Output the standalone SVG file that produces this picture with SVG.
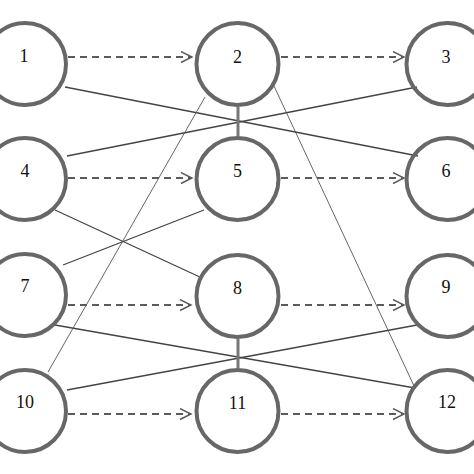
<svg xmlns="http://www.w3.org/2000/svg" width="474" height="474" viewBox="0 0 474 474">
<style>
.node circle{fill:none;stroke:#676767;stroke-width:4}
.node text{font-family:"Liberation Serif","Times New Roman",serif;font-size:18px;fill:#111;text-anchor:middle}
.dash{stroke:#5a5a5a;stroke-width:2;stroke-dasharray:7,5;fill:none}
.solid{stroke:#444;stroke-width:1.3;fill:none}
.thin{stroke:#555;stroke-width:0.9;fill:none}
.bar{stroke:#777;stroke-width:3;fill:none}
</style>
<defs>
<marker id="ah" markerWidth="14" markerHeight="14" refX="12" refY="6" orient="auto" markerUnits="userSpaceOnUse">
<path d="M1,0.5 L12,6 L1,11.5" fill="none" stroke="#5a5a5a" stroke-width="1.4"/>
</marker>
</defs>
<rect width="474" height="474" fill="#fff"/>
<g id="connectors">
<line class="dash" x1="68" y1="57" x2="192" y2="57" marker-end="url(#ah)"/>
<line class="dash" x1="281" y1="57" x2="404" y2="57" marker-end="url(#ah)"/>
<line class="dash" x1="68" y1="178" x2="192" y2="178" marker-end="url(#ah)"/>
<line class="dash" x1="281" y1="178" x2="404" y2="178" marker-end="url(#ah)"/>
<line class="dash" x1="68" y1="305" x2="191" y2="305" marker-end="url(#ah)"/>
<line class="dash" x1="281" y1="305" x2="404" y2="305" marker-end="url(#ah)"/>
<line class="dash" x1="68" y1="414" x2="191" y2="414" marker-end="url(#ah)"/>
<line class="dash" x1="281" y1="414" x2="404" y2="414" marker-end="url(#ah)"/>
<line class="solid" x1="65" y1="87" x2="418" y2="156"/>
<line class="solid" x1="67" y1="156" x2="417" y2="87"/>
<line class="solid" x1="55" y1="210" x2="202" y2="278"/>
<line class="solid" x1="63" y1="265" x2="204" y2="210"/>
<line class="solid" x1="55" y1="325" x2="415" y2="388"/>
<line class="solid" x1="67" y1="390" x2="417" y2="325"/>
<line class="thin" x1="205" y1="97" x2="48" y2="372"/>
<line class="thin" x1="274" y1="86" x2="415" y2="388"/>
<line class="bar" x1="238" y1="107" x2="238" y2="136"/>
<line class="bar" x1="238" y1="339" x2="238" y2="368"/>
</g>
<g id="n1" class="node"><circle cx="25" cy="64" r="41"/><text x="24" y="62">1</text></g>
<g id="n2" class="node"><circle cx="237.5" cy="64" r="41"/><text x="237.5" y="63">2</text></g>
<g id="n3" class="node"><circle cx="447.5" cy="64" r="41"/><text x="446" y="63">3</text></g>
<g id="n4" class="node"><circle cx="25" cy="179" r="41"/><text x="25" y="177">4</text></g>
<g id="n5" class="node"><circle cx="237.5" cy="179" r="41"/><text x="237.5" y="177">5</text></g>
<g id="n6" class="node"><circle cx="447.5" cy="179" r="41"/><text x="446" y="177">6</text></g>
<g id="n7" class="node"><circle cx="25" cy="295" r="41"/><text x="25" y="292">7</text></g>
<g id="n8" class="node"><circle cx="237.5" cy="296" r="41"/><text x="237.5" y="294">8</text></g>
<g id="n9" class="node"><circle cx="447.5" cy="296" r="41"/><text x="446" y="293">9</text></g>
<g id="n10" class="node"><circle cx="25" cy="411" r="41"/><text x="25" y="408">10</text></g>
<g id="n11" class="node"><circle cx="237.5" cy="411" r="41"/><text x="237.5" y="409">11</text></g>
<g id="n12" class="node"><circle cx="447.5" cy="411" r="41"/><text x="447" y="408">12</text></g>
</svg>
